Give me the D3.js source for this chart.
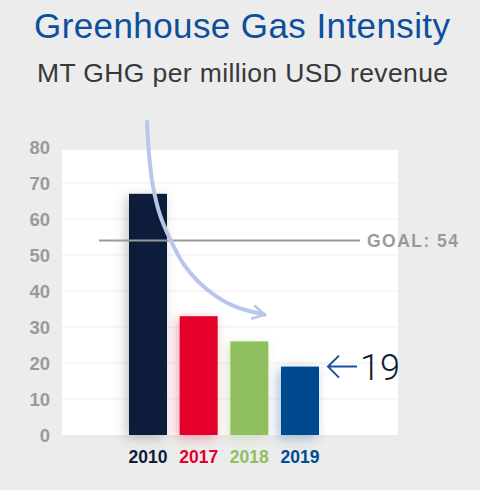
<!DOCTYPE html>
<html><head><meta charset="utf-8">
<script src="https://cdn.jsdelivr.net/npm/d3@7/dist/d3.min.js"></script>
<style>html,body{margin:0;padding:0;background:#ececec;}svg{display:block;}</style>
</head><body>
<script>
const categories = ["2010", "2017", "2018", "2019"];
const values = [67, 33, 26, 19];
const colors = ["#0e1e3a", "#e4002b", "#8fbf5f", "#004a8f"];
const yTicks = [0, 10, 20, 30, 40, 50, 60, 70, 80];
const goalValue = 54;
const goalLabel = "GOAL: 54";
const lastLabel = "19";
const title = "Greenhouse Gas Intensity";
const subtitle = "MT GHG per million USD revenue";
// trend arrow path in (bar index, value) space
const trendIdx = [-0.02, 0.02, 0.1, 0.24, 0.45, 0.7, 1.0, 1.32, 1.7, 2.3];
const trendVal = [87, 78, 69, 61, 54, 47.5, 42.5, 38.8, 35.8, 33.4];

const W = 480, H = 490;
const svg = d3.select("body").append("svg").attr("width", W).attr("height", H);
const defs = svg.append("defs");
colors.forEach((c, i) => {
  const f = defs.append("filter").attr("id", "sh" + i).attr("x", "-60%").attr("y", "-30%").attr("width", "220%").attr("height", "160%");
  f.append("feDropShadow").attr("dx", -3).attr("dy", 3).attr("stdDeviation", 6)
    .attr("flood-color", i === 0 ? "#555" : c).attr("flood-opacity", 0.35);
});
defs.append("marker").attr("id", "ah").attr("viewBox", "0 0 10 10").attr("refX", 8).attr("refY", 5)
  .attr("markerWidth", 4).attr("markerHeight", 4.4).attr("orient", "auto").attr("markerUnits", "strokeWidth")
  .append("path").attr("d", "M1,1 L8,5 L1,9").attr("fill", "none").attr("stroke", "#b7c7ea")
  .attr("stroke-width", 1.6).attr("stroke-linecap", "round").attr("stroke-linejoin", "round");

svg.append("rect").attr("width", W).attr("height", H).attr("fill", "#ececec");

const y = d3.scaleLinear().domain([0, 80]).range([435, 147]);
const x = d3.scaleBand().domain(categories).range([129, 319]).paddingInner(0.25).paddingOuter(0);
const xi = d3.scaleLinear().domain([0, 3]).range([x(categories[0]) + x.bandwidth() / 2, x(categories[3]) + x.bandwidth() / 2]);

// title
svg.append("text").attr("x", 34).attr("y", 37.5)
  .attr("textLength", 416).attr("lengthAdjust", "spacing")
  .attr("font-family", "Liberation Sans, Arial, sans-serif").attr("font-size", 35).attr("fill", "#0d4f9c").text(title);
svg.append("text").attr("x", 37).attr("y", 82)
  .attr("textLength", 411).attr("lengthAdjust", "spacing")
  .attr("font-family", "Liberation Sans, Arial, sans-serif").attr("font-size", 26.5).attr("fill", "#383838").text(subtitle);

// plot area
svg.append("rect").attr("x", 62).attr("y", 150).attr("width", 336).attr("height", 285).attr("fill", "#ffffff");
svg.append("g").selectAll("line").data(yTicks.filter(t => t > 0 && t < 80)).join("line")
  .attr("x1", 62).attr("x2", 398).attr("y1", d => y(d)).attr("y2", d => y(d))
  .attr("stroke", "#efefef").attr("stroke-width", 1);

// y axis labels
svg.append("g").selectAll("text").data(yTicks).join("text")
  .attr("x", 50).attr("y", d => y(d)).attr("dy", "0.36em").attr("text-anchor", "end")
  .attr("font-family", "Liberation Sans, Arial, sans-serif").attr("font-weight", "bold").attr("font-size", 18.5)
  .attr("fill", "#9a9a9a").text(d => d);

// bars
svg.append("g").selectAll("rect").data(values).join("rect")
  .attr("x", (d, i) => x(categories[i])).attr("width", x.bandwidth())
  .attr("y", d => y(d)).attr("height", d => y(0) - y(d))
  .attr("fill", (d, i) => colors[i]).attr("filter", (d, i) => `url(#sh${i})`);

// x labels
svg.append("g").selectAll("text").data(categories).join("text")
  .attr("x", d => x(d) + x.bandwidth() / 2).attr("y", 463).attr("text-anchor", "middle")
  .attr("font-family", "Liberation Sans, Arial, sans-serif").attr("font-weight", "bold").attr("font-size", 17.5)
  .attr("fill", (d, i) => colors[i]).text(d => d);

// goal line
svg.append("line").attr("x1", 99).attr("x2", 360).attr("y1", y(goalValue)).attr("y2", y(goalValue))
  .attr("stroke", "#999").attr("stroke-width", 2);
svg.append("text").attr("x", 367).attr("y", y(goalValue)).attr("dy", "0.36em")
  .attr("textLength", 91).attr("lengthAdjust", "spacing")
  .attr("font-family", "Liberation Sans, Arial, sans-serif").attr("font-weight", "bold").attr("font-size", 17.5)
  .attr("fill", "#9a9a9a").text(goalLabel);

// trend arrow
const pts = trendIdx.map((d, i) => [xi(d), y(trendVal[i])]);
svg.append("path").attr("d", d3.line().curve(d3.curveCatmullRom)(pts)).attr("fill", "none")
  .attr("stroke", "#b7c7ea").attr("stroke-width", 4).attr("stroke-linecap", "round").attr("marker-end", "url(#ah)");

// 19 annotation
const ly = y(values[3]);
const ax0 = x(categories[3]) + x.bandwidth() + 8;
svg.append("path").attr("d", `M${ax0 + 30},${ly} L${ax0 + 1},${ly} M${ax0 + 12},${ly - 11} L${ax0 + 1},${ly} L${ax0 + 12},${ly + 11}`)
  .attr("fill", "none").attr("stroke", "#1a4f9c").attr("stroke-width", 2);
svg.append("text").attr("x", ax0 + 33).attr("y", ly).attr("dy", "0.36em")
  .attr("font-family", "Roboto, Liberation Sans, sans-serif").attr("font-weight", 300).attr("font-size", 36)
  .attr("fill", "#0e1e3a").text(lastLabel);
</script>
</body></html>
